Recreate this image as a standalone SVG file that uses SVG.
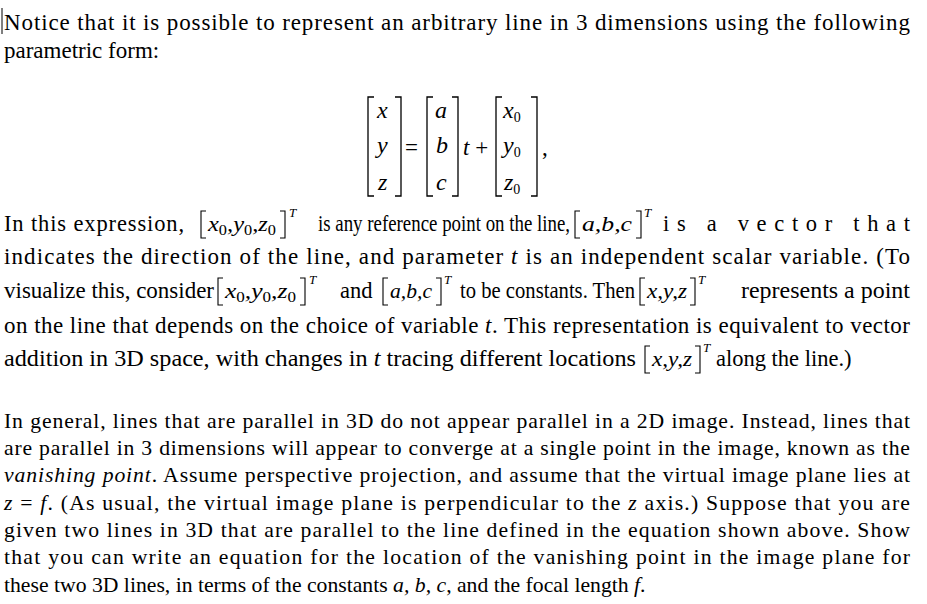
<svg xmlns="http://www.w3.org/2000/svg" width="927" height="604" viewBox="0 0 927 604">
<style>
text{font-family:"Liberation Serif","DejaVu Serif",serif;font-size:23px;fill:#000}
.p1{font-size:23px}
.seg{font-size:22.5px}
.p3{font-size:21.7px}
.m{font-style:italic;font-size:24px}
.im{font-style:italic;font-size:21px}
.i{font-style:italic}
.s{font-size:14px;font-style:normal}
.sup{font-size:13px;font-style:italic}
.br{fill:none;stroke:#000;stroke-width:1.3}
.bb{fill:none;stroke:#000;stroke-width:1.1}
</style>
<rect width="927" height="604" fill="#fff"/>
<line x1="2" y1="8" x2="2" y2="34" stroke="#000" stroke-width="1"/>
<text class="p1" x="4" y="30" textLength="906" lengthAdjust="spacing">Notice that it is possible to represent an arbitrary line in 3 dimensions using the following</text>
<text class="p1" x="4" y="58">parametric form:</text>

<g id="matrix">
<path class="br" d="M374 97 H368 V196 H374 M395 97 H401 V196 H395"/>
<text class="m" x="377" y="118">x</text><text class="m" x="377" y="153">y</text><text class="m" x="378" y="190">z</text>
<text x="405" y="155">=</text>
<path class="br" d="M433 97 H427 V196 H433 M452 97 H458 V196 H452"/>
<text class="m" x="435" y="118">a</text><text class="m" x="436" y="153">b</text><text class="m" x="436" y="190">c</text>
<text x="463" y="155"><tspan class="i">t</tspan> +</text>
<path class="br" d="M502 97 H496 V196 H502 M531 97 H537 V196 H531"/>
<text class="m" x="503" y="118">x<tspan class="s" dy="4">0</tspan></text>
<text class="m" x="503" y="153">y<tspan class="s" dy="4">0</tspan></text>
<text class="m" x="504" y="190">z<tspan class="s" dy="4">0</tspan></text>
<text x="542" y="155">,</text>
</g>

<text class="seg" x="4" y="231" textLength="180" lengthAdjust="spacing">In this expression,</text>
<path class="bb" d="M206 211 H201 V238 H206 M280 211 H285 V238 H280"/>
<text class="im" x="208" y="231" textLength="68" lengthAdjust="spacingAndGlyphs">x<tspan class="s" dy="4">0</tspan><tspan dy="-4">,</tspan>y<tspan class="s" dy="4">0</tspan><tspan dy="-4">,</tspan>z<tspan class="s" dy="4">0</tspan></text>
<text class="sup" x="289" y="217">T</text>
<text class="seg" x="318" y="231" textLength="252" lengthAdjust="spacingAndGlyphs">is any reference point on the line,</text>
<path class="bb" d="M580 211 H575 V238 H580 M636 211 H641 V238 H636"/>
<text class="im" x="582" y="231" textLength="50" lengthAdjust="spacingAndGlyphs">a,b,c</text>
<text class="sup" x="644" y="217">T</text>
<text class="seg" x="663" y="231" textLength="247" lengthAdjust="spacing">is a vector that</text>

<text x="4" y="264" textLength="906" lengthAdjust="spacing">indicates the direction of the line, and parameter <tspan class="i">t</tspan> is an independent scalar variable. (To</text>

<text class="seg" x="4" y="298" textLength="210" lengthAdjust="spacingAndGlyphs">visualize this, consider</text>
<path class="bb" d="M223 278 H218 V305 H223 M300 278 H305 V305 H300"/>
<text class="im" x="225" y="298" textLength="71" lengthAdjust="spacingAndGlyphs">x<tspan class="s" dy="4">0</tspan><tspan dy="-4">,</tspan>y<tspan class="s" dy="4">0</tspan><tspan dy="-4">,</tspan>z<tspan class="s" dy="4">0</tspan></text>
<text class="sup" x="309" y="284">T</text>
<text class="seg" x="340" y="298">and</text>
<path class="bb" d="M388 278 H383 V305 H388 M436 278 H441 V305 H436"/>
<text class="im" x="390" y="298" textLength="42" lengthAdjust="spacingAndGlyphs">a,b,c</text>
<text class="sup" x="444" y="284">T</text>
<text class="seg" x="460" y="298" textLength="175" lengthAdjust="spacingAndGlyphs">to be constants. Then</text>
<path class="bb" d="M645 278 H640 V305 H645 M690 278 H695 V305 H690"/>
<text class="im" x="647" y="298" textLength="40" lengthAdjust="spacingAndGlyphs">x,y,z</text>
<text class="sup" x="698" y="284">T</text>
<text class="seg" x="741" y="298" textLength="169" lengthAdjust="spacingAndGlyphs">represents a point</text>

<text x="4" y="333" textLength="906" lengthAdjust="spacing">on the line that depends on the choice of variable <tspan class="i">t</tspan>. This representation is equivalent to vector</text>

<text class="seg" x="4" y="366" textLength="632" lengthAdjust="spacingAndGlyphs">addition in 3D space, with changes in <tspan class="i">t</tspan> tracing different locations</text>
<path class="bb" d="M650 346 H645 V373 H650 M695 346 H700 V373 H695"/>
<text class="im" x="652" y="366" textLength="40" lengthAdjust="spacingAndGlyphs">x,y,z</text>
<text class="sup" x="703" y="352">T</text>
<text class="seg" x="716" y="366">along the line.)</text>

<text class="p3" x="4" y="428" textLength="906" lengthAdjust="spacing">In general, lines that are parallel in 3D do not appear parallel in a 2D image.  Instead, lines that</text>
<text class="p3" x="4" y="455" textLength="906" lengthAdjust="spacing">are parallel in 3 dimensions will appear to converge at a single point in the image, known as the</text>
<text class="p3" x="4" y="482" textLength="906" lengthAdjust="spacing"><tspan class="i">vanishing point</tspan>. Assume perspective projection, and assume that the virtual image plane lies at</text>
<text class="p3" x="4" y="510" textLength="906" lengthAdjust="spacing"><tspan class="i">z</tspan> = <tspan class="i">f</tspan>.  (As usual, the virtual image plane is perpendicular to the <tspan class="i">z</tspan> axis.) Suppose that you are</text>
<text class="p3" x="4" y="537" textLength="906" lengthAdjust="spacing">given two lines in 3D that are parallel to the line defined in the equation shown above. Show</text>
<text class="p3" x="4" y="564" textLength="906" lengthAdjust="spacing">that you can write an equation for the location of the vanishing point in the image plane for</text>
<text class="p3" x="4" y="592">these two 3D lines, in terms of the constants <tspan class="i">a, b, c</tspan>, and the focal length <tspan class="i">f</tspan>.</text>
</svg>
